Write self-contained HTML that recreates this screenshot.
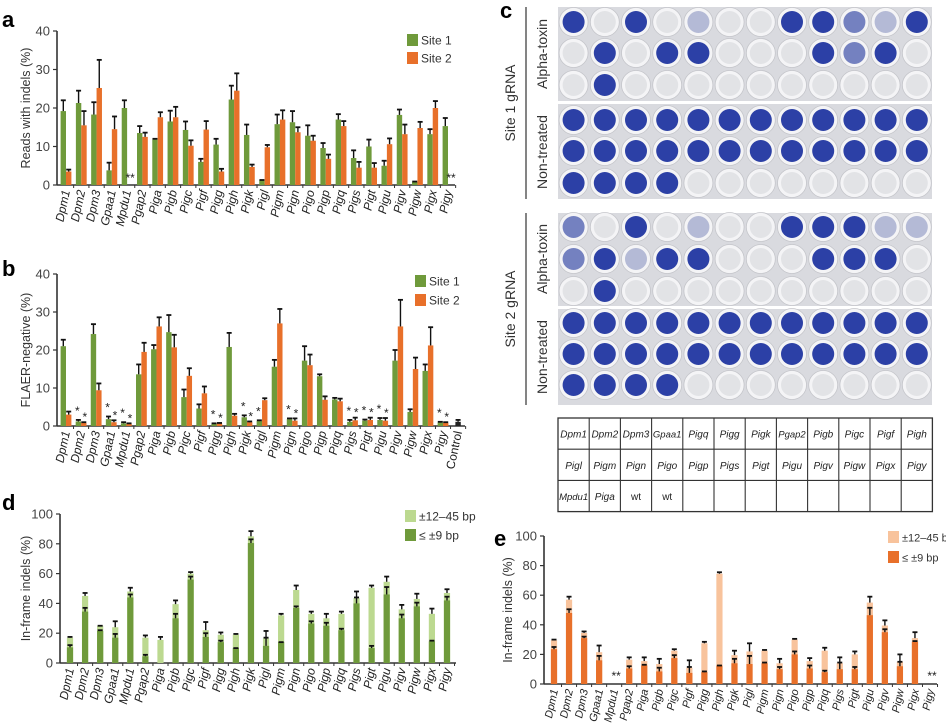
<!DOCTYPE html>
<html><head><meta charset="utf-8"><style>
html,body{margin:0;padding:0;background:#fff;}
svg{display:block;font-family:"Liberation Sans",Arial,sans-serif;}
</style></head><body>
<svg id="fig" width="946" height="728" viewBox="0 0 946 728">
<g id="root"></g>
</svg>
<script>
const NS="http://www.w3.org/2000/svg";
const root=document.getElementById('root');
function mk(tag,attrs,parent){const e=document.createElementNS(NS,tag);for(const k in attrs)e.setAttribute(k,attrs[k]);(parent||root).appendChild(e);return e;}

// ---------- Data ----------
const genesA=["Dpm1","Dpm2","Dpm3","Gpaa1","Mpdu1","Pgap2","Piga","Pigb","Pigc","Pigf","Pigg","Pigh","Pigk","Pigl","Pigm","Pign","Pigo","Pigp","Pigq","Pigs","Pigt","Pigu","Pigv","Pigw","Pigx","Pigy"];
const aSite1=[19.2,21.3,18.3,3.8,20,13.5,11.8,16.5,14.3,6,10.5,22.2,13,1.2,15.8,16.3,12.8,9.6,17,7,10,5,18.2,0.8,13.2,15.3];
const aSite1Err=[22,24.5,21.5,5.8,22,15.3,12,19.3,16.5,6.8,12,25.8,15.7,1.3,18.3,19.2,15.5,10.9,18.4,9,11.8,6.3,19.6,0.9,14.5,17.4];
const aSite2=[3.5,15.5,25.2,14.5,null,12.5,17.6,17.6,10.2,14.4,3.5,24.5,4.7,9.8,17,13.7,11.5,6.8,15.3,4.5,4.5,10.6,13.2,14.8,20,null];
const aSite2Err=[4,19.2,32.5,17.8,null,13.6,18.9,20.3,11.6,16.6,4.2,29,5.3,10.4,19.4,15,12.8,7.9,16.6,6,5.7,12.1,15.7,16.4,21.8,null];

const genesB=["Dpm1","Dpm2","Dpm3","Gpaa1","Mpdu1","Pgap2","Piga","Pigb","Pigc","Pigf","Pigg","Pigh","Pigk","Pigl","Pigm","Pign","Pigo","Pigp","Pigq","Pigs","Pigt","Pigu","Pigv","Pigw","Pigx","Pigy","Control"];
const bSite1=[21,1.2,24.2,1.8,0.7,13.6,20.2,24.7,7.6,4.6,0.6,20.8,2.3,1.3,15.6,1.8,17.2,13.1,7,1.1,1.4,1.6,17.2,3.7,14.5,0.9,1.1];
const bSite1Err=[22.7,1.6,26.8,2.5,1,16.2,21.3,29.2,9.6,5.7,0.7,24.5,2.8,1.5,17.4,2,21,13.6,7.4,1.6,1.7,2.1,20,4.4,16.2,1.1,1.6];
const bSite2=[3,0.8,9.4,1,0.6,19.5,26.2,20.7,13.2,8.6,0.7,2.7,1,6.8,27,1.4,16,6.9,6.5,1.5,1.6,1.4,26.2,15,21.2,0.8,null];
const bSite2Err=[3.8,1,11.2,1.5,0.7,21.9,28.6,24,15.2,10.4,0.8,3.2,1.2,7.3,30.8,2,18.8,7.8,7.2,2.2,2.2,2.1,33.2,18,26,1,null];
const bStar1=[0,1,0,1,1,0,0,0,0,0,1,0,1,1,0,1,0,0,0,1,1,1,0,0,0,1,0];
const bStar2=[0,1,0,1,1,0,0,0,0,0,1,0,1,0,0,1,0,0,0,1,1,1,0,0,0,1,0];

const genesD=["Dpm1","Dpm2","Dpm3","Gpaa1","Mpdu1","Pgap2","Piga","Pigb","Pigc","Pigf","Pigg","Pigh","Pigk","Pigl","Pigm","Pign","Pigo","Pigp","Pigq","Pigs","Pigt","Pigu","Pigv","Pigw","Pigx","Pigy"];
const dSmall=[10.5,34.5,21.5,17,44,4.5,0,30,56,17.5,14,10,80.5,11.5,14,37,26.5,25,22,40,10,46,30,38,14.5,42];
const dTotal=[17,45,25,24,48,17,15.5,39.5,60,22,19,19,85,16.5,32,49,33,30,33,43.5,50.5,54.5,36,43,33,47];
const dSmallErr=[12,37,22,19.5,46,5.5,null,33,58,20,15,10,83,17,14,38,28,27,23,44,11.5,51,32.5,40.5,15,44.5];
const dTotalErr=[17.5,47,25,28,50.5,18.5,17.5,42,61,27.5,20.5,19.5,88.5,21.5,33,52,34.5,33,34.5,48,52,58,39,46.5,36.5,49.5];

const genesE=["Dpm1","Dpm2","Dpm3","Gpaa1","Mpdu1","Pgap2","Piga","Pigb","Pigc","Pigf","Pigg","Pigh","Pigk","Pigl","Pigm","Pign","Pigo","Pigp","Pigq","Pigs","Pigt","Pigu","Pigv","Pigw","Pigx","Pigy"];
const eSmall=[23.5,48,31,16,null,10.5,12.5,8.5,17.5,7.5,8,12.5,14,13.5,14,10,20,10.5,8,10,10,46.5,35,12,28.5,null];
const eTotal=[29.5,57,34.5,21.5,null,16.5,15.5,13.5,22.5,11,27.5,74.5,19.5,22,22.5,14,30,15.5,22.5,14,20,55,39.5,15,31,null];
const eSmallErr=[25,50.5,32,19,null,12,13,11,19.5,11.5,8.5,12.5,17,19,14.5,11.5,22,12.5,9,14.5,11.5,51.5,37,15,29,null];
const eTotalErr=[30,59,35.5,26,null,18,18,17,23.5,16,28.5,75.5,22.5,27.5,23,17,30.5,17.5,24.5,18,22,59,43,20,35,null];

const yTicks40=[0,10,20,30,40];
const yTicks100=[0,20,40,60,80,100];

const GREEN="#6f9a3b",ORANGE="#e8702a",LGREEN="#bcd990",LORANGE="#f8c39c",AX="#333";

function axes(g,cfg){
  const y=v=>cfg.y0-(v/cfg.ymax)*(cfg.y0-cfg.ytop);
  const xs=i=>cfg.x1+i*cfg.pitch;
  const fs=cfg.fs||12;
  const ax=mk('g',{},g);
  
  
  mk('line',{x1:cfg.ax,y1:cfg.ytop,x2:cfg.ax,y2:cfg.y0,stroke:AX,'stroke-width':1.6},ax);
  mk('line',{x1:cfg.ax,y1:cfg.y0,x2:cfg.axEnd,y2:cfg.y0,stroke:AX,'stroke-width':1.6},ax);
  cfg.ticks.forEach(t=>{
    mk('line',{x1:cfg.ax-4,y1:y(t),x2:cfg.ax,y2:y(t),stroke:AX,'stroke-width':1.2},ax);
    const tx=mk('text',{x:cfg.ax-7,y:y(t)+4.5,'text-anchor':'end','font-size':13,fill:'#444'},ax);
    tx.textContent=t;
    
    
  });
  cfg.cats.forEach((c,i)=>{
    mk('line',{x1:xs(i)+cfg.pitch/2,y1:cfg.y0,x2:xs(i)+cfg.pitch/2,y2:cfg.y0+3,stroke:AX,'stroke-width':1},ax);
    const italic=c!=="Control";
    const tx=mk('text',{x:0,y:0,'text-anchor':'end','font-size':fs,fill:'#222','font-style':italic?'italic':'normal',transform:`translate(${xs(i)+4},${cfg.y0+6}) rotate(-78)`},ax);
    tx.textContent=c;
    
    
  });
  const yl=mk('text',{x:0,y:0,'text-anchor':'middle','font-size':12.5,fill:'#333',transform:`translate(${cfg.ylx},${(cfg.y0+cfg.ytop)/2}) rotate(-90)`},ax);
  yl.textContent=cfg.ylabel;
  
  
  return {y,xs};
}
function errBar(g,x,yTop,yBot){
  mk('line',{x1:x,y1:yTop,x2:x,y2:yBot,stroke:'#111','stroke-width':1.4},g);
  mk('line',{x1:x-2.5,y1:yTop,x2:x+2.5,y2:yTop,stroke:'#111','stroke-width':1.8},g);
}
function legend(g,x,y1,y2,c1,c2,t1,t2,name,fs){
  fs=fs||12;
  const L=mk('g',{},g);
  
  
  [[y1,c1,t1],[y2,c2,t2]].forEach(([yy,c,t])=>{
    const en=mk('g',{},L);
    
    
    mk('rect',{x:x,y:yy-6,width:11,height:12,fill:c},en);
    const tx=mk('text',{x:x+14,y:yy+4.5,'font-size':fs,fill:'#333'},en);
    tx.textContent=t;
  });
}
function panelLetter(t,x,y){
  const e=mk('text',{x:x,y:y,'font-size':22,'font-weight':'bold',fill:'#000'});
  e.textContent=t;
  
  
}
function stars(g,x,y,t){
  const e=mk('text',{x:x,y:y,'text-anchor':'middle','font-size':12,fill:'#222'},g);
  e.textContent=t;
  
  
}

// ---------- Panel a ----------
(function(){
  const g=mk('g',{});
  
  
  const A=axes(g,{name:'panel-a',ax:57,axEnd:455,y0:185,ytop:31,ymax:40,x1:66,pitch:15.28,ticks:yTicks40,cats:genesA,ylabel:'Reads with indels (%)',ylx:30});
  const bw=5.4;
  genesA.forEach((c,i)=>{
    const cx=A.xs(i);
    if(aSite1[i]!=null){
      const r=mk('rect',{x:cx-bw,y:A.y(aSite1[i]),width:bw,height:A.y(0)-A.y(aSite1[i]),fill:GREEN},g);
      
      
      errBar(g,cx-bw/2,A.y(aSite1Err[i]),A.y(aSite1[i]));
    }
    if(aSite2[i]!=null){
      const r=mk('rect',{x:cx,y:A.y(aSite2[i]),width:bw,height:A.y(0)-A.y(aSite2[i]),fill:ORANGE},g);
      
      
      errBar(g,cx+bw/2,A.y(aSite2Err[i]),A.y(aSite2[i]));
    } else stars(g,cx+3,A.y(0)-3,'**');
  });
  legend(g,407,40,58,GREEN,ORANGE,'Site 1','Site 2','legend-a');
  panelLetter('a',2,27);
})();

// ---------- Panel b ----------
(function(){
  const g=mk('g',{});
  
  
  const A=axes(g,{name:'panel-b',ax:57,axEnd:465,y0:426,ytop:274,ymax:40,x1:66,pitch:15.08,ticks:yTicks40,cats:genesB,ylabel:'FLAER-negative (%)',ylx:30});
  const bw=5.4;
  genesB.forEach((c,i)=>{
    const cx=A.xs(i);
    if(c==="Control"){
      const r=mk('rect',{x:cx-bw/2,y:A.y(bSite1[i]),width:bw,height:A.y(0)-A.y(bSite1[i]),fill:'#222'},g);
      
      
      errBar(g,cx,A.y(bSite1Err[i]),A.y(bSite1[i]));
      return;
    }
    const r=mk('rect',{x:cx-bw,y:A.y(bSite1[i]),width:bw,height:A.y(0)-A.y(bSite1[i]),fill:GREEN},g);
    
    
    errBar(g,cx-bw/2,A.y(bSite1Err[i]),A.y(bSite1[i]));
    const r2=mk('rect',{x:cx,y:A.y(bSite2[i]),width:bw,height:A.y(0)-A.y(bSite2[i]),fill:ORANGE},g);
    
    
    errBar(g,cx+bw/2,A.y(bSite2Err[i]),A.y(bSite2[i]));
    if(bStar1[i]) stars(g,cx-bw/2-1,A.y(bSite1Err[i])-5,'*');
    if(bStar2[i]) stars(g,cx+bw/2+1,A.y(bSite2Err[i])-1,'*');
  });
  legend(g,415,281,300,GREEN,ORANGE,'Site 1','Site 2','legend-b');
  panelLetter('b',2,276);
})();

function stacked(cfg){
  const g=mk('g',{});
  
  
  const A=axes(g,cfg);
  const bw=6.2;
  cfg.cats.forEach((c,i)=>{
    const cx=A.xs(i);
    if(cfg.total[i]==null){stars(g,cx+2,A.y(0)-4,'**');return;}
    const r=mk('rect',{x:cx-bw/2,y:A.y(cfg.total[i]),width:bw,height:A.y(0)-A.y(cfg.total[i]),fill:cfg.light},g);
    
    
    if(cfg.small[i]>0){
      const r2=mk('rect',{x:cx-bw/2,y:A.y(cfg.small[i]),width:bw,height:A.y(0)-A.y(cfg.small[i]),fill:cfg.dark},g);
      
      
    }
    errBar(g,cx,A.y(cfg.totalErr[i]),A.y(cfg.total[i]));
    if(cfg.smallErr[i]!=null) errBar(g,cx,A.y(cfg.smallErr[i]),A.y(cfg.small[i]));
  });
  legend(g,cfg.lx,cfg.ly1,cfg.ly2,cfg.light,cfg.dark,'±12–45 bp','≤ ±9 bp',cfg.name+'-legend',cfg.lfs);
}
stacked({name:'panel-d-chart',ax:60,axEnd:456,y0:663,ytop:514,ymax:100,x1:70,pitch:15.08,ticks:yTicks100,cats:genesD,ylabel:'In-frame indels (%)',ylx:30,small:dSmall,total:dTotal,smallErr:dSmallErr,totalErr:dTotalErr,light:LGREEN,dark:GREEN,lx:405,ly1:516,ly2:535});
panelLetter('d',2,510);
stacked({name:'panel-e-chart',ax:544,axEnd:937,y0:684,ytop:536,ymax:100,x1:554,pitch:15.04,fs:11,ticks:yTicks100,cats:genesE,ylabel:'In-frame indels (%)',ylx:512,small:eSmall,total:eTotal,smallErr:eSmallErr,totalErr:eTotalErr,light:LORANGE,dark:ORANGE,lx:888,ly1:537,ly2:557,lfs:11});
panelLetter('e',494,546);

// ---------- Panel c ----------
const plateRows=[
 [3,0,3,0,1,0,0,3,3,2,1,3],
 [0,3,0,3,3,0,0,0,3,2,3,0],
 [0,3,0,0,0,0,0,0,0,0,0,0],
 [3,3,3,3,3,3,3,3,3,3,3,3],
 [3,3,3,3,3,3,3,3,3,3,3,3],
 [3,3,3,3,0,0,0,0,0,0,0,0],
 [2,0,3,0,1,0,0,3,3,3,1,1],
 [2,3,1,3,3,0,0,0,3,3,3,0],
 [0,3,0,0,0,0,0,0,0,0,0,0],
 [3,3,3,3,3,3,3,3,3,3,3,3],
 [3,3,3,3,3,3,3,3,3,3,3,3],
 [3,3,3,3,0,0,0,0,0,0,0,0]
];
const rowY=[22,53,85,120,151,183,227,259,291,323,354,385];
const plateRects=[[7,101],[104,199],[213,306],[309,405]];
(function(){
  const g=mk('g',{});
  
  
  plateRects.forEach(([a,b])=>{
    const r=mk('rect',{x:558,y:a,width:374,height:b-a,fill:'#d9dadf'},g);
    
    
  });
  const op=[0,0.25,0.6,1];
  plateRows.forEach((row,ri)=>{
    row.forEach((v,ci)=>{
      const cx=573.6+ci*31.2, cy=rowY[ri];
      const w=mk('g',{},g);
      
      
      mk('circle',{cx:cx,cy:cy,r:14.5,fill:'#f4f4f6',stroke:'#c4c5ca','stroke-width':0.8},w);
      mk('circle',{cx:cx,cy:cy,r:11,fill:'#e2e3e6'},w);
      if(v>0) mk('circle',{cx:cx,cy:cy,r:11,fill:'#2c40a6','fill-opacity':op[v]},w);
    });
  });
  [[7,199,'Site 1 gRNA',103],[213,405,'Site 2 gRNA',309]].forEach(([a,b,t,m])=>{
    mk('line',{x1:526,y1:a,x2:526,y2:b,stroke:'#333','stroke-width':1.2},g);
    const tx=mk('text',{x:0,y:0,'text-anchor':'middle','font-size':14,fill:'#333',transform:`translate(515,${m}) rotate(-90)`},g);
    tx.textContent=t;
    
    
  });
  [[54,'Alpha-toxin'],[152,'Non-treated'],[259,'Alpha-toxin'],[357,'Non-treated']].forEach(([m,t])=>{
    const tx=mk('text',{x:0,y:0,'text-anchor':'middle','font-size':14,fill:'#333',transform:`translate(547,${m}) rotate(-90)`},g);
    tx.textContent=t;
    
    
  });
  panelLetter('c',500,18);
})();

const tableCells=[
 ["Dpm1","Dpm2","Dpm3","Gpaa1","Pigq","Pigg","Pigk","Pgap2","Pigb","Pigc","Pigf","Pigh"],
 ["Pigl","Pigm","Pign","Pigo","Pigp","Pigs","Pigt","Pigu","Pigv","Pigw","Pigx","Pigy"],
 ["Mpdu1","Piga","wt","wt","","","","","","","",""]
];
(function(){
  const g=mk('g',{});
  
  
  const x0=558,y0=418,cw=31.2,rh=31.2;
  mk('rect',{x:x0,y:y0,width:cw*12,height:rh*3,fill:'#fff',stroke:'#333','stroke-width':1.3},g);
  for(let i=1;i<12;i++) mk('line',{x1:x0+i*cw,y1:y0,x2:x0+i*cw,y2:y0+rh*3,stroke:'#333','stroke-width':1.1},g);
  for(let j=1;j<3;j++) mk('line',{x1:x0,y1:y0+j*rh,x2:x0+cw*12,y2:y0+j*rh,stroke:'#333','stroke-width':1.1},g);
  tableCells.forEach((row,j)=>row.forEach((t,i)=>{
    if(!t) return;
    const tx=mk('text',{x:x0+i*cw+cw/2,y:y0+j*rh+rh/2+4,'text-anchor':'middle','font-size':t.length>4?9.5:10,'font-style':t==='wt'?'normal':'italic',fill:'#222'},g);
    tx.textContent=t;
    
    
  }));
})();
</script>
</body></html>
